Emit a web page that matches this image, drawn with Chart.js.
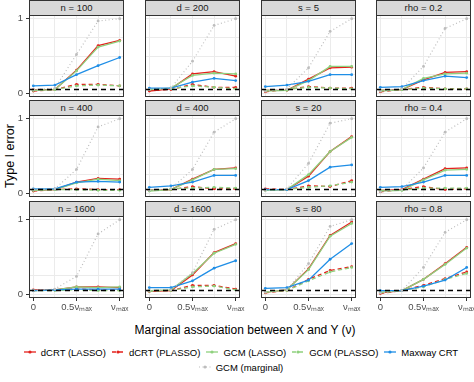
<!DOCTYPE html>
<html><head><meta charset="utf-8">
<script src="https://cdn.jsdelivr.net/npm/chart.js@4.4.1/dist/chart.umd.min.js"></script>
<style>
html,body{margin:0;padding:0;background:#fff;}
#root{position:relative;width:474px;height:382px;overflow:hidden;font-family:"Liberation Sans",Arial,sans-serif;background:#fff;}
canvas{position:absolute;}
.strip{position:absolute;box-sizing:border-box;height:16px;width:95px;background:#D9D9D9;border:1px solid #333;font-size:9.5px;color:#1a1a1a;text-align:center;line-height:14px;white-space:nowrap;}
.ytitle{position:absolute;left:-50px;top:149px;width:120px;text-align:center;font-size:12.5px;line-height:14px;color:#000;transform:rotate(-90deg);}
.xtitle{position:absolute;left:45px;top:323px;width:400px;text-align:center;font-size:12px;line-height:14px;color:#000;}
.legrow{position:absolute;left:0;width:480px;display:flex;justify-content:center;align-items:center;font-size:9.5px;color:#000;height:12px;}
.legitem{display:flex;align-items:center;margin:0 2px;white-space:nowrap;}
.legitem svg{margin-right:3px;}
</style>
</head><body>
<div id="root">
  <div class="ytitle">Type I error</div>
  <div class="xtitle">Marginal association between X and Y (ν)</div>
  <div class="legrow" id="leg1" style="top:346px"></div>
  <div class="legrow" id="leg2" style="top:361px"></div>
</div>
<script>
// ---------------- data ----------------
const PANEL_LABELS = ['n = 100','d = 200','s = 5','rho = 0.2',
                      'n = 400','d = 400','s = 20','rho = 0.4',
                      'n = 1600','d = 1600','s = 80','rho = 0.8'];
const V_VALUES = [0, 0.25, 0.5, 0.75, 1];
const X_TICK_LABELS = ['0', '', '0.5νₘₐₓ', '', 'νₘₐₓ'];
const Y_TICK_VALUES = [0, 0.25, 0.5, 0.75, 1];
const Y_TICK_LABELS = ['0', '', '', '', '1'];
const NOMINAL_LEVEL = 0.05;

const dcrtLasso = [
  [0.05,0.05,0.31,0.64,0.71],[0.03,0.06,0.26,0.29,0.23],[0.04,0.04,0.19,0.34,0.35],[0.04,0.05,0.18,0.28,0.29],
  [0.04,0.05,0.15,0.20,0.19],[0.04,0.05,0.19,0.32,0.34],[0.05,0.05,0.23,0.56,0.76],[0.04,0.05,0.19,0.33,0.34],
  [0.06,0.06,0.10,0.10,0.09],[0.04,0.05,0.26,0.56,0.68],[0.03,0.06,0.34,0.79,0.97],[0.02,0.05,0.20,0.41,0.63]
];
const dcrtPlasso = [
  [0.03,0.05,0.12,0.12,0.10],[0.04,0.05,0.12,0.08,0.08],[0.02,0.05,0.09,0.07,0.07],[0.02,0.05,0.08,0.06,0.06],
  [0.03,0.05,0.06,0.05,0.05],[0.04,0.05,0.09,0.06,0.06],[0.06,0.05,0.10,0.09,0.17],[0.02,0.05,0.09,0.05,0.06],
  [0.05,0.06,0.07,0.06,0.06],[0.04,0.05,0.12,0.12,0.07],[0.02,0.05,0.20,0.32,0.37],[0.01,0.05,0.12,0.21,0.30]
];
const gcmLasso = [
  [0.04,0.05,0.30,0.62,0.70],[0.05,0.07,0.24,0.27,0.26],[0.03,0.04,0.17,0.36,0.36],[0.03,0.05,0.20,0.26,0.27],
  [0.04,0.05,0.14,0.19,0.17],[0.03,0.05,0.18,0.32,0.33],[0.04,0.05,0.25,0.56,0.75],[0.03,0.04,0.18,0.31,0.32],
  [0.05,0.06,0.10,0.09,0.10],[0.05,0.06,0.28,0.55,0.67],[0.03,0.06,0.33,0.78,0.95],[0.03,0.05,0.20,0.40,0.62]
];
const gcmPlasso = [
  [0.04,0.05,0.10,0.11,0.10],[0.05,0.06,0.10,0.08,0.06],[0.04,0.05,0.08,0.07,0.06],[0.04,0.05,0.07,0.06,0.06],
  [0.04,0.05,0.05,0.04,0.04],[0.04,0.06,0.07,0.08,0.07],[0.04,0.05,0.08,0.10,0.15],[0.04,0.04,0.07,0.07,0.07],
  [0.05,0.05,0.06,0.05,0.05],[0.04,0.05,0.10,0.11,0.06],[0.03,0.05,0.18,0.30,0.36],[0.02,0.05,0.10,0.20,0.28]
];
const maxwayCrt = [
  [0.10,0.11,0.25,0.37,0.48],[0.07,0.07,0.15,0.20,0.17],[0.09,0.11,0.16,0.25,0.25],[0.08,0.09,0.17,0.23,0.21],
  [0.06,0.06,0.15,0.16,0.15],[0.08,0.10,0.15,0.24,0.24],[0.05,0.05,0.17,0.35,0.38],[0.08,0.09,0.15,0.24,0.24],
  [0.05,0.06,0.07,0.07,0.07],[0.09,0.09,0.18,0.35,0.45],[0.08,0.09,0.19,0.47,0.68],[0.05,0.05,0.11,0.19,0.36]
];
const gcmMarginal = [
  [0.05,0.07,0.52,0.97,1.00],[0.05,0.07,0.43,0.91,1.00],[0.03,0.06,0.34,0.83,1.00],[0.03,0.06,0.36,0.87,1.00],
  [0.05,0.06,0.32,0.89,1.00],[0.04,0.06,0.32,0.82,1.00],[0.04,0.06,0.40,0.94,1.00],[0.02,0.05,0.34,0.82,1.00],
  [0.05,0.07,0.24,0.81,1.00],[0.05,0.06,0.29,0.87,1.00],[0.03,0.06,0.41,0.91,1.00],[0.02,0.05,0.36,0.83,1.00]
];

// ---------------- styles ----------------
const RED = '#E3211C', GREEN = '#8FD17E', BLUE = '#1F8EE6', GREY = '#BDBDBD';
const SERIES = [
  {label:'dCRT (LASSO)',   values:dcrtLasso,   color:RED,   dash:[],    width:1.3},
  {label:'dCRT (PLASSO)',  values:dcrtPlasso,  color:RED,   dash:[4,3], width:1.3},
  {label:'GCM (LASSO)',    values:gcmLasso,    color:GREEN, dash:[],    width:1.3},
  {label:'GCM (PLASSO)',   values:gcmPlasso,   color:GREEN, dash:[4,3], width:1.3},
  {label:'Maxway CRT',     values:maxwayCrt,   color:BLUE,  dash:[],    width:1.3},
  {label:'GCM (marginal)', values:gcmMarginal, color:GREY,  dash:[1,2.5], width:1.2}
];

const PLOT_LEFTS = [29, 145, 261, 376];
const PLOT_TOPS = [15, 115, 216];
const PLOT_W = 95, PLOT_H = 82;
const Y_AXIS_W = 29, X_AXIS_H = 20;
const PAD = {top:6, left:6, right:14, bottom:6};

Chart.defaults.font.family = '"Liberation Sans", Arial, sans-serif';

const panelPlugin = {
  id: 'panelDecor',
  afterDatasetsDraw(chart) {
    const {ctx, chartArea: a} = chart;
    const ys = chart.scales.y;
    ctx.save();
    const py = ys.getPixelForValue(NOMINAL_LEVEL);
    ctx.setLineDash([5, 4]);
    ctx.strokeStyle = '#000';
    ctx.lineWidth = 1.5;
    ctx.beginPath();
    ctx.moveTo(a.left, py);
    ctx.lineTo(a.right, py);
    ctx.stroke();
    ctx.setLineDash([]);
    ctx.strokeStyle = '#333';
    ctx.lineWidth = 1;
    const L = Math.round(a.left), T = Math.round(a.top), R = Math.round(a.right), B = Math.round(a.bottom);
    ctx.strokeRect(L + 0.5, T + 0.5, R - L - 1, B - T - 1);
    ctx.restore();
  }
};

const root = document.getElementById('root');

PANEL_LABELS.forEach((label, i) => {
  const col = i % 4, row = Math.floor(i / 4);
  const hasY = col === 0, hasX = row === 2;
  const yW = hasY ? Y_AXIS_W : 0, xH = hasX ? X_AXIS_H : 0;
  const cv = document.createElement('canvas');
  const w = PAD.left + yW + PLOT_W + PAD.right;
  const h = PAD.top + PLOT_H + xH + PAD.bottom;
  cv.width = w; cv.height = h;
  cv.style.width = w + 'px'; cv.style.height = h + 'px';
  cv.style.left = (PLOT_LEFTS[col] - PAD.left - yW) + 'px';
  cv.style.top = (PLOT_TOPS[row] - PAD.top) + 'px';
  root.appendChild(cv);

  new Chart(cv, {
    type: 'scatter',
    data: {
      datasets: SERIES.map((s, k) => ({
        label: s.label,
        data: V_VALUES.map((v, j) => ({x: v, y: s.values[i][j]})),
        showLine: true,
        borderColor: s.color,
        backgroundColor: s.color,
        borderDash: s.dash,
        borderWidth: s.width,
        pointRadius: 1.4,
        pointBorderWidth: 0,
        pointHoverRadius: 0,
        tension: 0,
        order: SERIES.length - k
      }))
    },
    options: {
      responsive: false,
      devicePixelRatio: 1,
      animation: false,
      events: [],
      layout: {padding: PAD},
      plugins: {legend: {display: false}, tooltip: {enabled: false}, title: {display: false}},
      scales: {
        x: {
          type: 'linear', min: -0.05, max: 1.05,
          afterBuildTicks: s => { s.ticks = V_VALUES.map(v => ({value: v})); },
          afterFit: s => { s.height = xH; s.paddingLeft = 0; s.paddingRight = 0; },
          ticks: {display: hasX, autoSkip: false, maxRotation: 0, padding: 1, color: '#4D4D4D',
                  font: {size: 9.5}, callback: (v, idx) => X_TICK_LABELS[idx]},
          grid: {color: '#EBEBEB', lineWidth: 1, drawTicks: hasX, tickLength: 3,
                 tickColor: c => X_TICK_LABELS[c.index] ? '#333' : 'rgba(0,0,0,0)'},
          border: {display: false}
        },
        y: {
          type: 'linear', min: -0.05, max: 1.05,
          afterBuildTicks: s => { s.ticks = Y_TICK_VALUES.map(v => ({value: v})); },
          afterFit: s => { s.width = yW; s.paddingTop = 0; s.paddingBottom = 0; },
          ticks: {display: hasY, autoSkip: false, padding: 3, color: '#4D4D4D',
                  font: {size: 9.5}, callback: (v, idx) => Y_TICK_LABELS[idx]},
          grid: {color: '#EBEBEB', lineWidth: 1, drawTicks: hasY, tickLength: 3,
                 tickColor: c => Y_TICK_LABELS[c.index] ? '#333' : 'rgba(0,0,0,0)'},
          border: {display: false}
        }
      }
    },
    plugins: [panelPlugin]
  });

  const st = document.createElement('div');
  st.className = 'strip';
  st.textContent = label;
  st.style.left = PLOT_LEFTS[col] + 'px';
  st.style.top = (PLOT_TOPS[row] - 15) + 'px';
  root.appendChild(st);
});

// legend
function keySvg(s) {
  const ns = 'http://www.w3.org/2000/svg';
  const svg = document.createElementNS(ns, 'svg');
  svg.setAttribute('width', '16'); svg.setAttribute('height', '10');
  const ln = document.createElementNS(ns, 'line');
  ln.setAttribute('x1', '2'); ln.setAttribute('x2', '14');
  ln.setAttribute('y1', '5'); ln.setAttribute('y2', '5');
  ln.setAttribute('stroke', s.color); ln.setAttribute('stroke-width', s.width);
  if (s.dash.length) ln.setAttribute('stroke-dasharray', s.dash.join(','));
  const c = document.createElementNS(ns, 'circle');
  c.setAttribute('cx', '8'); c.setAttribute('cy', '5'); c.setAttribute('r', '1.6');
  c.setAttribute('fill', s.color);
  svg.appendChild(ln); svg.appendChild(c);
  return svg;
}
SERIES.forEach((s, k) => {
  const item = document.createElement('div');
  item.className = 'legitem';
  item.appendChild(keySvg(s));
  const t = document.createElement('span');
  t.textContent = s.label;
  item.appendChild(t);
  document.getElementById(k < 5 ? 'leg1' : 'leg2').appendChild(item);
});
</script>
</body></html>
